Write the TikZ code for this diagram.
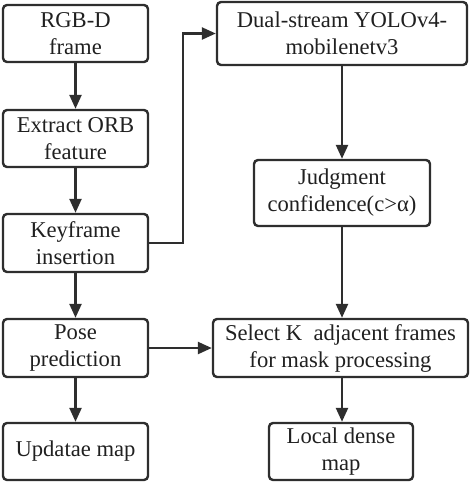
\documentclass[tikz,border=0pt]{standalone}
\usepackage{fontspec}
\setmainfont{Liberation Serif}
\newfontfamily\boxfont{Liberation Serif}
\usetikzlibrary{arrows.meta}
\definecolor{edge}{HTML}{2E2E2E}
\definecolor{ink}{HTML}{202020}
\begin{document}
\begin{tikzpicture}[x=1pt,y=-1pt,
  box/.style={draw=edge, line width=2.4pt, rounded corners=4pt, fill=white,
    align=center, inner sep=0pt, text=ink,
    font=\boxfont\fontsize{22.6}{27}\selectfont},
  conn/.style={draw=edge, line width=2.4pt,
    -{Triangle[length=14pt,width=12pt]}}]
\useasboundingbox (0,0) rectangle (474,483);
\node[box, minimum width=145pt, minimum height=57pt] (rgb) at (75.5,33.5) {RGB-D\\frame};
\node[box, minimum width=145pt, minimum height=57pt] (orb) at (75.5,138.5) {Extract ORB\\feature};
\node[box, minimum width=145pt, minimum height=58pt] (key) at (75.5,243) {Keyframe\\insertion};
\node[box, minimum width=145pt, minimum height=58pt] (pose) at (75.5,348) {Pose\\prediction};
\node[box, minimum width=145pt, minimum height=57pt] (upd) at (75.5,451.5) {Updatae map};
\node[box, minimum width=250pt, minimum height=63pt] (dual) at (342,33.5) {Dual-stream YOLOv4-\\mobilenetv3};
\node[box, minimum width=176pt, minimum height=66pt] (jud) at (342,193) {Judgment\\confidence(c>α)};
\node[box, minimum width=255pt, minimum height=58pt] (sel) at (340.5,348) {Select K~ adjacent frames\\for mask processing};
\node[box, minimum width=144pt, minimum height=57pt] (loc) at (341,451.5) {Local dense\\map};
\coordinate (bend) at (183,140);
\draw[conn] (rgb) -- (orb);
\draw[conn] (orb) -- (key);
\draw[conn] (key) -- (pose);
\draw[conn] (pose) -- (upd);
\draw[conn] (key.east) -| (bend) |- (dual.west);
\draw[conn] (dual) -- (jud);
\draw[conn] (jud.south) -- (jud.south |- sel.north);
\draw[conn] (pose.east) -- (sel.west);
\draw[conn] (sel.south -| jud.south) -- (loc.north -| jud.south);
\end{tikzpicture}
\end{document}
